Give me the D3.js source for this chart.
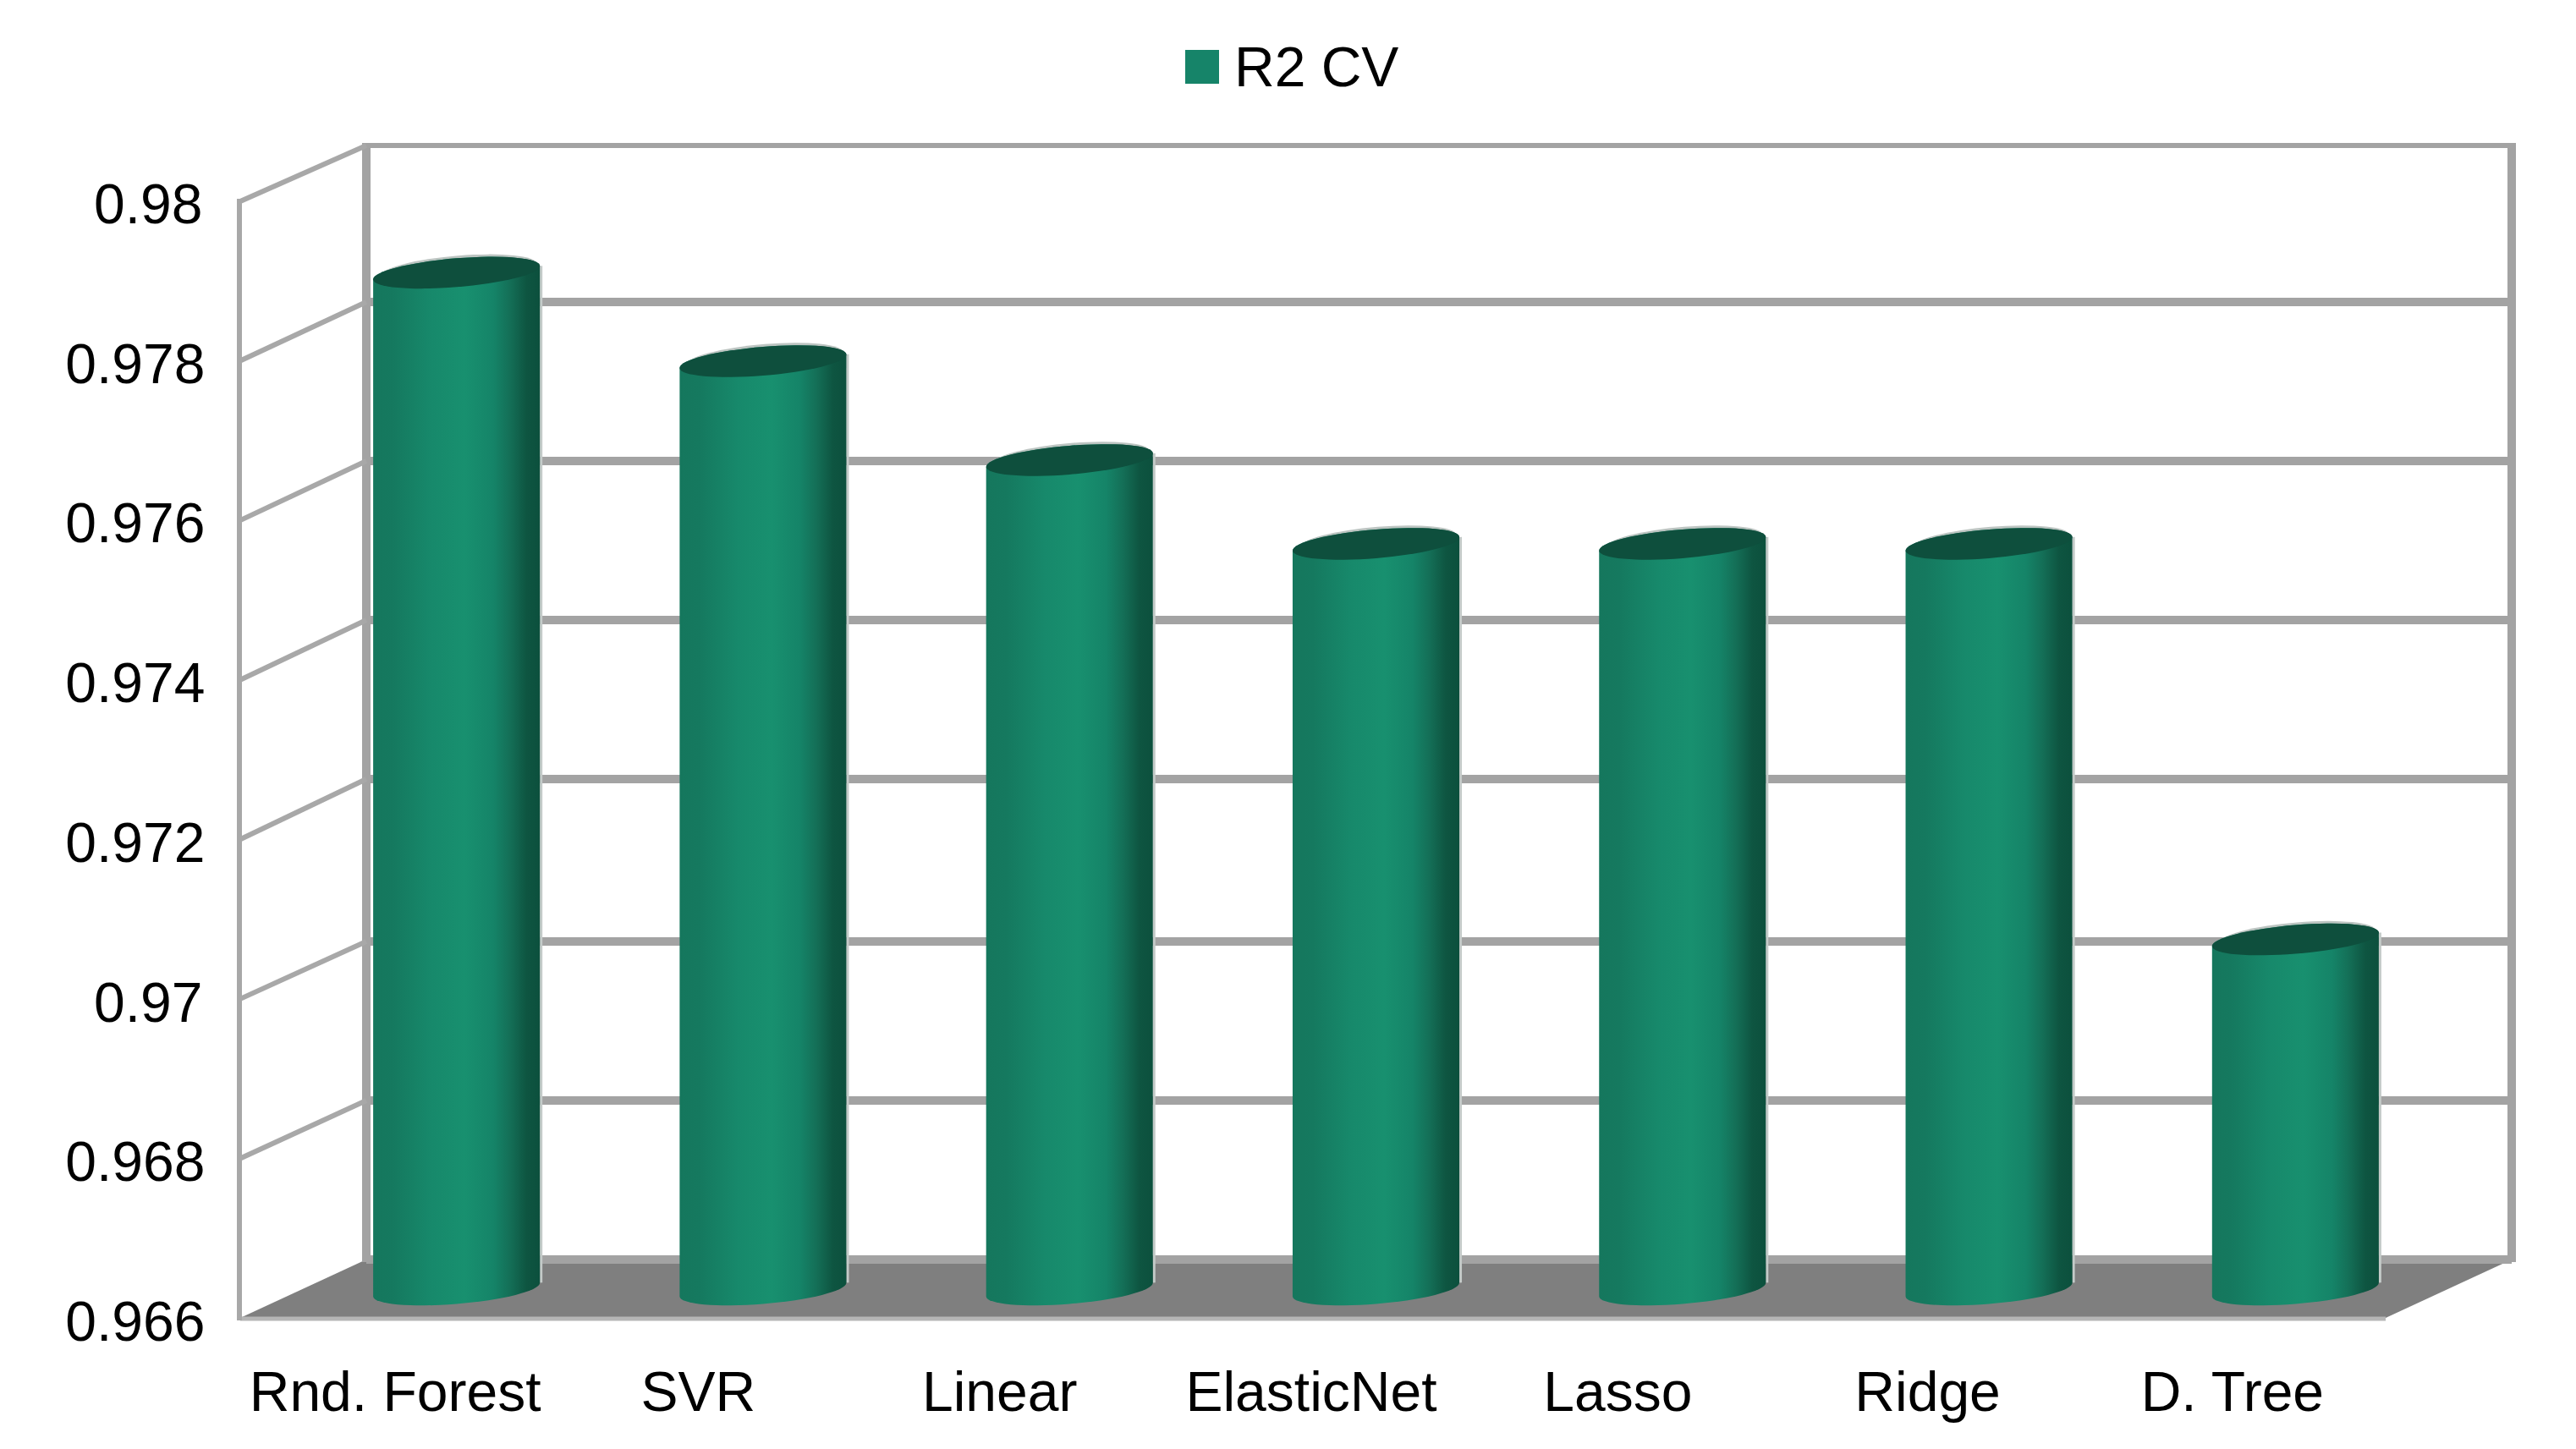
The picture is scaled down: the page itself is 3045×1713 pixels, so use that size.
<!DOCTYPE html>
<html><head><meta charset="utf-8">
<script src="https://cdn.jsdelivr.net/npm/d3@7"></script>
<style>html,body{margin:0;padding:0;background:#fff}svg{display:block}text{font-family:"Liberation Sans",Arial,sans-serif;fill:#000}</style>
</head><body><svg id="c" width="3045" height="1713"></svg>
<script>
const categories=["Rnd. Forest","SVR","Linear","ElasticNet","Lasso","Ridge","D. Tree"];
const r2cv=[0.97875,0.97764,0.97640,0.97535,0.97535,0.97535,0.97039];
const tickValues=[0.98,0.978,0.976,0.974,0.972,0.97,0.968,0.966];
const tickLabels=["0.98","0.978","0.976","0.974","0.972","0.97","0.968","0.966"];
const seriesName="R2 CV";
// layout only: pixel rows of the back-wall gridlines (uneven in the source) and label nudges
const backRows=[172,357,545,733,921,1113,1301,1489];
const labelNudge=[0,-4,-10,-4,-4,0,-2];

const svg=d3.select("#c");
const front={l:284,r:2820,t:238,b:1558};
const depth={x:149,y:-67};
const grid="#a3a3a3";
const domain=[0.966,0.98];
const yFront=d3.scaleLinear().domain(domain).range([front.b,front.t]);
const yLabel=d3.scaleLinear().domain(domain).range([1585,264]);
const yBack=d3.scaleLinear().domain(tickValues).range(backRows);
const yMid=v=>yFront(v)+depth.y/2;
const x=d3.scaleBand().domain(categories).range([front.l,front.r]);

const defs=svg.append("defs");
const g=defs.append("linearGradient").attr("id","cyl").attr("x1",0).attr("x2",1).attr("y1",0).attr("y2",0);
[[0,"#15775d"],[0.12,"#15795f"],[0.35,"#17896b"],[0.55,"#18906f"],[0.72,"#158468"],[0.82,"#146f57"],[0.92,"#0e5541"],[1,"#0c503d"]]
 .forEach(s=>g.append("stop").attr("offset",s[0]).attr("stop-color",s[1]));

// floor
svg.append("path").attr("fill","#7f7f7f")
 .attr("d",d3.line()([[front.l,front.b],[front.r,front.b],[front.r+depth.x,yBack(0.966)],[front.l+depth.x,yBack(0.966)]])+"Z");
svg.append("line").attr("x1",front.l).attr("x2",front.r).attr("y1",front.b+1).attr("y2",front.b+1)
 .attr("stroke","#b6b6b6").attr("stroke-width",5);

// back wall gridlines
svg.append("g").selectAll("line").data(tickValues).join("line")
 .attr("x1",front.l+depth.x).attr("x2",front.r+depth.x)
 .attr("y1",d=>yBack(d)).attr("y2",d=>yBack(d))
 .attr("stroke",grid).attr("stroke-width",d=>d===0.98?6:10);
// back wall verticals
svg.append("g").selectAll("line").data([front.l+depth.x,front.r+depth.x]).join("line")
 .attr("x1",d=>d).attr("x2",d=>d).attr("y1",yBack(0.98)-3).attr("y2",yBack(0.966)+3)
 .attr("stroke",grid).attr("stroke-width",10);
// side wall
svg.append("g").selectAll("line").data(tickValues.filter(d=>d!==0.966)).join("line")
 .attr("x1",front.l).attr("x2",front.l+depth.x)
 .attr("y1",d=>yFront(d)).attr("y2",d=>yBack(d))
 .attr("stroke","#a8a8a8").attr("stroke-width",6);
svg.append("line").attr("x1",front.l-1).attr("x2",front.l-1).attr("y1",yFront(0.98)-3).attr("y2",yFront(0.966)+3)
 .attr("stroke","#a8a8a8").attr("stroke-width",6);
// bars
const rx=x.bandwidth()*0.272, ry=17, slope=-8/99;
const bars=svg.append("g").selectAll("g").data(categories.map((c,i)=>({c,v:r2cv[i]}))).join("g")
 .attr("transform",d=>`translate(${x(d.c)+x.bandwidth()/2+depth.x/2},0) matrix(1,${slope},0,1,0,0)`);
const bodyPath=d=>`M${-rx},${yMid(d.v)}L${-rx},${yMid(0.966)}A${rx},${ry} 0 0 0 ${rx},${yMid(0.966)}L${rx},${yMid(d.v)}A${rx},${ry} 0 0 0 ${-rx},${yMid(d.v)}Z`;
// soft halo: above the top cap and along the right edge
bars.append("ellipse").attr("fill","#bcc4c1").attr("cx",2).attr("cy",d=>yMid(d.v)-3).attr("rx",rx-6).attr("ry",ry);
bars.append("line").attr("x1",rx+1.5).attr("x2",rx+1.5).attr("y1",d=>yMid(d.v)).attr("y2",yMid(0.966))
 .attr("stroke","#c3cac8").attr("stroke-width",3);
bars.append("path").attr("fill","url(#cyl)").attr("d",bodyPath);
bars.append("ellipse").attr("fill","#0e4f3d").attr("cx",0).attr("cy",d=>yMid(d.v)).attr("rx",rx).attr("ry",ry);

// tick labels
svg.append("g").selectAll("text").data(tickValues).join("text")
 .attr("x",(d,i)=>tickLabels[i].length<5?239.5:242.5).attr("y",d=>yLabel(d)).attr("text-anchor","end").attr("font-size",66)
 .text((d,i)=>tickLabels[i]);
svg.append("g").selectAll("text").data(categories).join("text")
 .attr("x",(d,i)=>x(d)+x.bandwidth()/2+2+labelNudge[i]).attr("y",1668).attr("text-anchor","middle").attr("font-size",66)
 .text(d=>d);
// legend
svg.append("rect").attr("x",1401).attr("y",59).attr("width",40).attr("height",40).attr("fill","#168469");
svg.append("text").attr("x",1459).attr("y",102).attr("font-size",66).text(seriesName);
</script></body></html>
